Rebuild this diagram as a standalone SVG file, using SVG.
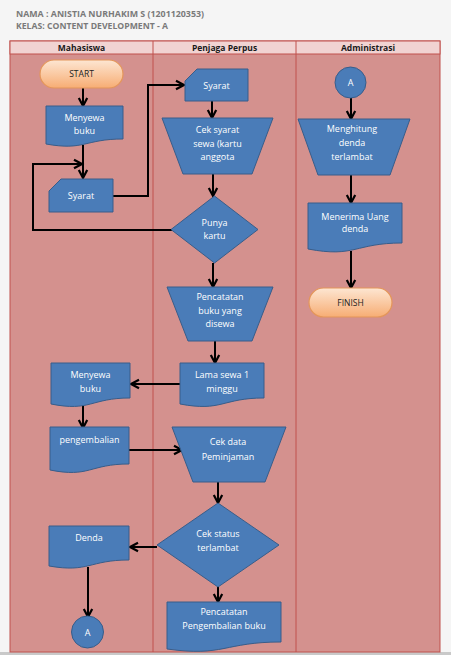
<svg xmlns="http://www.w3.org/2000/svg" width="451" height="655" viewBox="0 0 451 655">
<defs>
<linearGradient id="og" x1="0" y1="0" x2="0" y2="1">
<stop offset="0" stop-color="#fde6d2"/>
<stop offset="1" stop-color="#f7ad74"/>
</linearGradient>
<marker id="ah" markerUnits="userSpaceOnUse" markerWidth="12" markerHeight="12" refX="9" refY="5" orient="auto" viewBox="0 0 12 10">
<path d="M1,0.8 L9,5 L1,9.2" fill="none" stroke="#000" stroke-width="2.2"/>
</marker>
<style>
.n{fill:#4a7cb8;stroke:#385d8a;stroke-width:1}
.t{fill:#fff;font-family:"Open Sans","Liberation Sans",sans-serif;font-size:9px;text-anchor:middle}
.term{fill:url(#og);stroke:#e4965a;stroke-width:1.2}
.tt{fill:#222;font-family:"Open Sans","Liberation Sans",sans-serif;font-size:8.5px;text-anchor:middle}
.h{fill:#1a1a1a;font-family:"Open Sans","Liberation Sans",sans-serif;font-size:8.5px;font-weight:bold;text-anchor:middle}
.c{fill:none;stroke:#000;stroke-width:2}
.a{marker-end:url(#ah)}
.ti{fill:#7a7a7a;font-family:"Open Sans","Liberation Sans",sans-serif;font-size:8.5px;font-weight:bold}
</style>
</defs>
<rect x="0" y="0" width="451" height="655" fill="#f5f5f5"/>
<rect x="0" y="652" width="451" height="3" fill="#c9c9c9"/>
<text class="ti" x="16" y="16.5" textLength="188" lengthAdjust="spacingAndGlyphs">NAMA : ANISTIA NURHAKIM S (1201120353)</text>
<text class="ti" x="16" y="29" textLength="152" lengthAdjust="spacingAndGlyphs">KELAS: CONTENT DEVELOPMENT  - A</text>
<g id="table">
<rect x="10" y="41" width="430" height="611" fill="#d4918e" stroke="#c0504d" stroke-width="1"/>
<rect x="10" y="41" width="430" height="13" fill="#f1d3d2" stroke="#c0504d" stroke-width="1"/>
<line x1="153" y1="41" x2="153" y2="652" stroke="#c0504d" stroke-width="1"/>
<line x1="296" y1="41" x2="296" y2="652" stroke="#c0504d" stroke-width="1"/>
<text class="h" x="81.5" y="50.8">Mahasiswa</text>
<text class="h" x="224.5" y="50.8">Penjaga Perpus</text>
<text class="h" x="368" y="50.8">Administrasi</text>
</g>
<g id="connectors">
<line class="c a" x1="83" y1="88" x2="83" y2="106"/>
<line class="c a" x1="83" y1="145" x2="83" y2="178"/>
<polyline class="c a" points="172,230 33,230 33,164 82,164"/>
<polyline class="c a" points="113,196 148,196 148,85 184,85"/>
<line class="c a" x1="212" y1="101" x2="212" y2="118"/>
<line class="c a" x1="213" y1="174" x2="213" y2="196"/>
<line class="c a" x1="213" y1="263" x2="213" y2="287"/>
<line class="c a" x1="215" y1="341" x2="215" y2="363"/>
<line class="c a" x1="180" y1="384" x2="131" y2="384"/>
<line class="c a" x1="83" y1="404" x2="83" y2="428"/>
<line class="c a" x1="129" y1="450" x2="182" y2="450"/>
<line class="c a" x1="218" y1="482" x2="218" y2="503"/>
<line class="c a" x1="157" y1="547" x2="130" y2="547"/>
<line class="c a" x1="88" y1="567" x2="88" y2="617"/>
<line class="c a" x1="218" y1="587" x2="218" y2="602"/>
<line class="c a" x1="351" y1="98" x2="351" y2="119"/>
<line class="c a" x1="351" y1="175" x2="351" y2="203"/>
<line class="c a" x1="351" y1="251" x2="351" y2="288"/>
</g>
<g id="start">
<rect class="term" x="40" y="60" width="83" height="28" rx="14"/>
<text class="tt" x="81.5" y="77">START</text>
</g>
<g id="menyewa1">
<path class="n" d="M46,106 H123 V139 C84.5,139 84.5,151 46,144 Z"/>
<text class="t" x="84.5" y="121">Menyewa</text>
<text class="t" x="84.5" y="134">buku</text>
</g>
<g id="syarat1">
<path class="n" d="M61,179 H113 V212 H49 V191 Z"/>
<text class="t" x="81" y="199">Syarat</text>
</g>
<g id="syarat2">
<path class="n" d="M197,69 H248 V101 H185 V81 Z"/>
<text class="t" x="216.5" y="89">Syarat</text>
</g>
<g id="ceksyarat">
<path class="n" d="M162,118 H273 L252,174 H183 Z"/>
<text class="t" x="217.5" y="133">Cek syarat</text>
<text class="t" x="217.5" y="146.5">sewa (kartu</text>
<text class="t" x="217.5" y="160">anggota</text>
</g>
<g id="punyakartu">
<path class="n" d="M214.5,196 L258,229.5 L214.5,263 L171,229.5 Z"/>
<text class="t" x="214.5" y="226">Punya</text>
<text class="t" x="214.5" y="239">kartu</text>
</g>
<g id="pencatatan1">
<path class="n" d="M167,287 H273 L252,341 H188 Z"/>
<text class="t" x="220" y="300">Pencatatan</text>
<text class="t" x="220" y="314">buku yang</text>
<text class="t" x="220" y="327">disewa</text>
</g>
<g id="lamasewa">
<path class="n" d="M180,363 H264 V398 C222,398 222,412 180,404 Z"/>
<text class="t" x="222" y="378">Lama sewa 1</text>
<text class="t" x="222" y="392">minggu</text>
</g>
<g id="menyewa2">
<path class="n" d="M51,363 H130 V398 C90.5,398 90.5,412 51,404 Z"/>
<text class="t" x="90.5" y="378">Menyewa</text>
<text class="t" x="90.5" y="392">buku</text>
</g>
<g id="pengembalian">
<path class="n" d="M50,427 H129 V464 C89.5,464 89.5,478 50,470 Z"/>
<text class="t" x="89.5" y="443">pengembalian</text>
</g>
<g id="cekdata">
<path class="n" d="M172,427 H286 L265,482 H193 Z"/>
<text class="t" x="228" y="445">Cek data</text>
<text class="t" x="228" y="460">Peminjaman</text>
</g>
<g id="cekstatus">
<path class="n" d="M218,503 L279,545 L218,587 L157,545 Z"/>
<text class="t" x="218" y="537">Cek status</text>
<text class="t" x="218" y="551">terlambat</text>
</g>
<g id="denda">
<path class="n" d="M49,526 H129 V560 C89,560 89,573 49,566 Z"/>
<text class="t" x="89" y="541">Denda</text>
</g>
<g id="connA1">
<circle class="n" cx="87.5" cy="632" r="16"/>
<text class="t" x="87.5" y="635.5">A</text>
</g>
<g id="pencatatan2">
<path class="n" d="M167,602 H281 V642 C224,642 224,657 167,649 Z"/>
<text class="t" x="224" y="615">Pencatatan</text>
<text class="t" x="224" y="629">Pengembalian buku</text>
</g>
<g id="connA2">
<circle class="n" cx="350.5" cy="82.5" r="15.5"/>
<text class="t" x="350.5" y="86">A</text>
</g>
<g id="menghitung">
<path class="n" d="M298,119 H410 L390,175 H318 Z"/>
<text class="t" x="352" y="132">Menghitung</text>
<text class="t" x="352" y="146">denda</text>
<text class="t" x="352" y="160">terlambat</text>
</g>
<g id="menerima">
<path class="n" d="M308,203 H402 V243 C355,243 355,258 308,249 Z"/>
<text class="t" x="355" y="220">Menerima Uang</text>
<text class="t" x="355" y="232">denda</text>
</g>
<g id="finish">
<rect class="term" x="309" y="288" width="83" height="29" rx="14.5"/>
<text class="tt" x="350.5" y="305.5">FINISH</text>
</g>
</svg>
